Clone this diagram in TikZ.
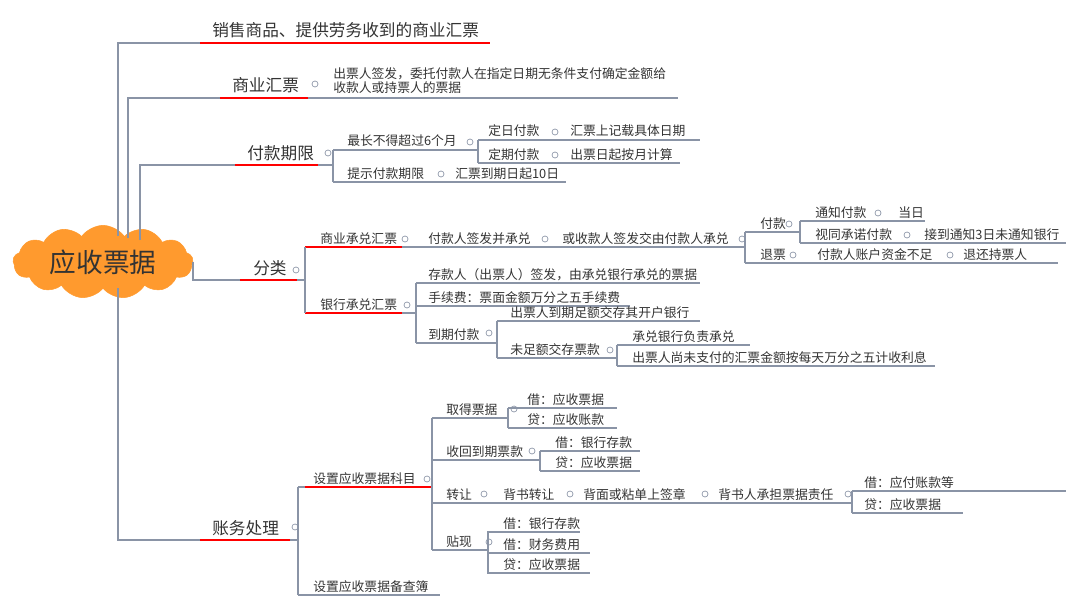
\documentclass[tikz,border=0pt]{standalone}
\usepackage{fontspec}
\setmainfont{Noto Sans CJK SC}
\usetikzlibrary{shapes.symbols}
\definecolor{linegray}{HTML}{8A94A6}
\definecolor{txtgray}{HTML}{333333}
\definecolor{cloudorange}{HTML}{FF9A2E}
\tikzset{
  branch/.style={draw=linegray, line width=1.1pt},
  redline/.style={draw=red, line width=2pt},
  thinred/.style={draw=red, line width=1pt},
  txt/.style={anchor=base west, inner sep=0pt, text=txtgray, font=\fontsize{9.6}{11}\selectfont},
  big/.style={txt, font=\fontsize{12.5}{14}\selectfont},
  knob/.style={circle, draw=linegray, line width=0.5pt, inner sep=0pt, minimum size=4.5pt}
}
% underline + text
\newcommand\tbr[6]{%
  \coordinate (#1-w) at (#2,#4); \coordinate (#1-e) at (#3,#4);
  \draw[branch] (#1-w) -- (#1-e);
  \node[txt] (#1) at (#5,#4-4) {#6};}
\newcommand\mbr[6]{%
  \coordinate (#1-w) at (#2,#4); \coordinate (#1-e) at (#3,#4);
  \draw[redline] (#1-w) -- (#1-e);
  \node[big] (#1) at (#5,#4-6) {#6};}
\begin{document}
\begin{tikzpicture}[x=0.75pt,y=-0.75pt]
\useasboundingbox (0,0) rectangle (1080,606);
% root
\node[cloud, cloud puffs=13, cloud puff arc=110, aspect=3, fill=cloudorange, draw=cloudorange,
  minimum width=135pt, minimum height=44pt, font=\fontsize{20}{22}\selectfont, text=txtgray] (root) at (103,262) {应收票据};
% main topics
\mbr{s1}{200}{490}{43}{212}{销售商品、提供劳务收到的商业汇票}
\mbr{s2}{220}{308}{98}{232}{商业汇票}
\mbr{s3}{235}{318}{165}{247}{付款期限}
\mbr{s4}{240}{297}{280}{253}{分类}
\mbr{s5}{200}{290}{540}{212}{账务处理}
\draw[branch] (118,236) |- (s1-w);
\draw[branch] (128,238) |- (s2-w);
\draw[branch] (140,240) |- (s3-w);
\draw[branch] (root.east) |- (s4-w);
\draw[branch] (118,288) |- (s5-w);
% 商业汇票
\draw[branch] (s2-e) -- (678,98);
\node[txt, anchor=north west, align=left] (s2d) at (333,67) {出票人签发，委托付款人在指定日期无条件支付确定金额给\\收款人或持票人的票据};
% 付款期限
\tbr{a1}{333}{478}{150}{347}{最长不得超过6个月}
\tbr{a2}{333}{566}{182}{347}{提示付款期限}
\node[txt] (a2x) at (455,178) {汇票到期日起10日};
\tbr{a11}{478}{700}{140}{488}{定日付款}
\node[txt] (a11x) at (570,136) {汇票上记载具体日期};
\tbr{a12}{478}{680}{163}{488}{定期付款}
\node[txt] (a12x) at (570,159) {出票日起按月计算};
\foreach \p in {a1,a2} \draw[branch] (s3-e) -| (333,165) |- (\p-w);
\foreach \p in {a11,a12} \draw[branch] (a1-e) |- (\p-w);
% 分类
\tbr{b1}{305}{745}{247}{320}{商业承兑汇票}
\draw[thinred] (305,247) -- (402,247);
\node[txt] (b1x) at (428,243) {付款人签发并承兑};
\node[txt] (b1y) at (562,243) {或收款人签发交由付款人承兑};
\tbr{b2}{305}{402}{313}{320}{银行承兑汇票}
\draw[thinred] (b2-w) -- (b2-e);
\foreach \p in {b1,b2} \draw[branch] (s4-e) -| (\p-w);
\tbr{b11}{745}{800}{232}{760}{付款}
\tbr{b12}{745}{1058}{263}{760}{退票}
\node[txt] (b12x) at (817,259) {付款人账户资金不足};
\node[txt] (b12y) at (963,259) {退还持票人};
\foreach \p in {b11,b12} \draw[branch] (b1-e) |- (\p-w);
\tbr{b111}{800}{925}{221}{815}{通知付款}
\node[txt] (b111x) at (898,217) {当日};
\tbr{b112}{800}{1066}{243}{815}{视同承诺付款}
\node[txt] (b112x) at (924,239) {接到通知3日未通知银行};
\foreach \p in {b111,b112} \draw[branch] (b11-e) |- (\p-w);
\tbr{b21}{416}{700}{283}{428}{存款人（出票人）签发，由承兑银行承兑的票据}
\tbr{b22}{416}{630}{306}{428}{手续费：票面金额万分之五手续费}
\tbr{b23}{416}{497}{343}{428}{到期付款}
\foreach \p in {b21,b22,b23} \draw[branch] (b2-e) -| (\p-w);
\tbr{b231}{497}{700}{321}{510}{出票人到期足额交存其开户银行}
\tbr{b232}{497}{617}{358}{510}{未足额交存票款}
\foreach \p in {b231,b232} \draw[branch] (b23-e) |- (\p-w);
\tbr{b2321}{617}{750}{345}{632}{承兑银行负责承兑}
\tbr{b2322}{617}{935}{366}{632}{出票人尚未支付的汇票金额按每天万分之五计收利息}
\foreach \p in {b2321,b2322} \draw[branch] (b232-e) |- (\p-w);
% 账务处理
\tbr{c1}{298}{432}{487}{313}{设置应收票据科目}
\draw[thinred] (305,487) -- (c1-e);
\tbr{c2}{298}{440}{595}{313}{设置应收票据备查簿}
\foreach \p in {c1,c2} \draw[branch] (s5-e) -| (\p-w);
\tbr{c11}{432}{508}{418}{446}{取得票据}
\tbr{c12}{432}{540}{460}{446}{收回到期票款}
\tbr{c13}{432}{850}{503}{446}{转让}
\node[txt] (c13x) at (503,499) {背书转让};
\node[txt] (c13y) at (583,499) {背面或粘单上签章};
\node[txt] (c13z) at (718,499) {背书人承担票据责任};
\tbr{c14}{432}{488}{550}{446}{贴现}
\foreach \p in {c11,c12,c13,c14} \draw[branch] (c1-e) |- (\p-w);
\tbr{c111}{508}{617}{408}{527}{借：应收票据}
\tbr{c112}{508}{617}{428}{527}{贷：应收账款}
\foreach \p in {c111,c112} \draw[branch] (c11-e) |- (\p-w);
\tbr{c121}{540}{640}{451}{555}{借：银行存款}
\tbr{c122}{540}{640}{471}{555}{贷：应收票据}
\foreach \p in {c121,c122} \draw[branch] (c12-e) |- (\p-w);
\tbr{c131}{852}{1066}{491}{864}{借：应付账款等}
\tbr{c132}{852}{963}{513}{864}{贷：应收票据}
\foreach \p in {c131,c132} \draw[branch] (c13-e) -| (\p-w);
\tbr{c141}{489}{580}{532}{503}{借：银行存款}
\tbr{c142}{489}{590}{553}{503}{借：财务费用}
\tbr{c143}{489}{590}{573}{503}{贷：应收票据}
\foreach \p in {c141,c142,c143} \draw[branch] (c14-e) |- (\p-w);
% collapse knobs
\foreach \x/\y in {315/84, 328/153, 296/270, 295/527, 470/142, 555/132, 555/155, 441/174,
  405/239, 545/239, 742/239, 789/224, 878/213, 907/235, 793/255, 950/255, 407/305, 489/333,
  610/350, 427/479, 514/409, 532/451, 484/494, 570/494, 705/494, 848/494, 489/542}
  \node[knob] at (\x,\y) {};
\end{tikzpicture}
\end{document}
